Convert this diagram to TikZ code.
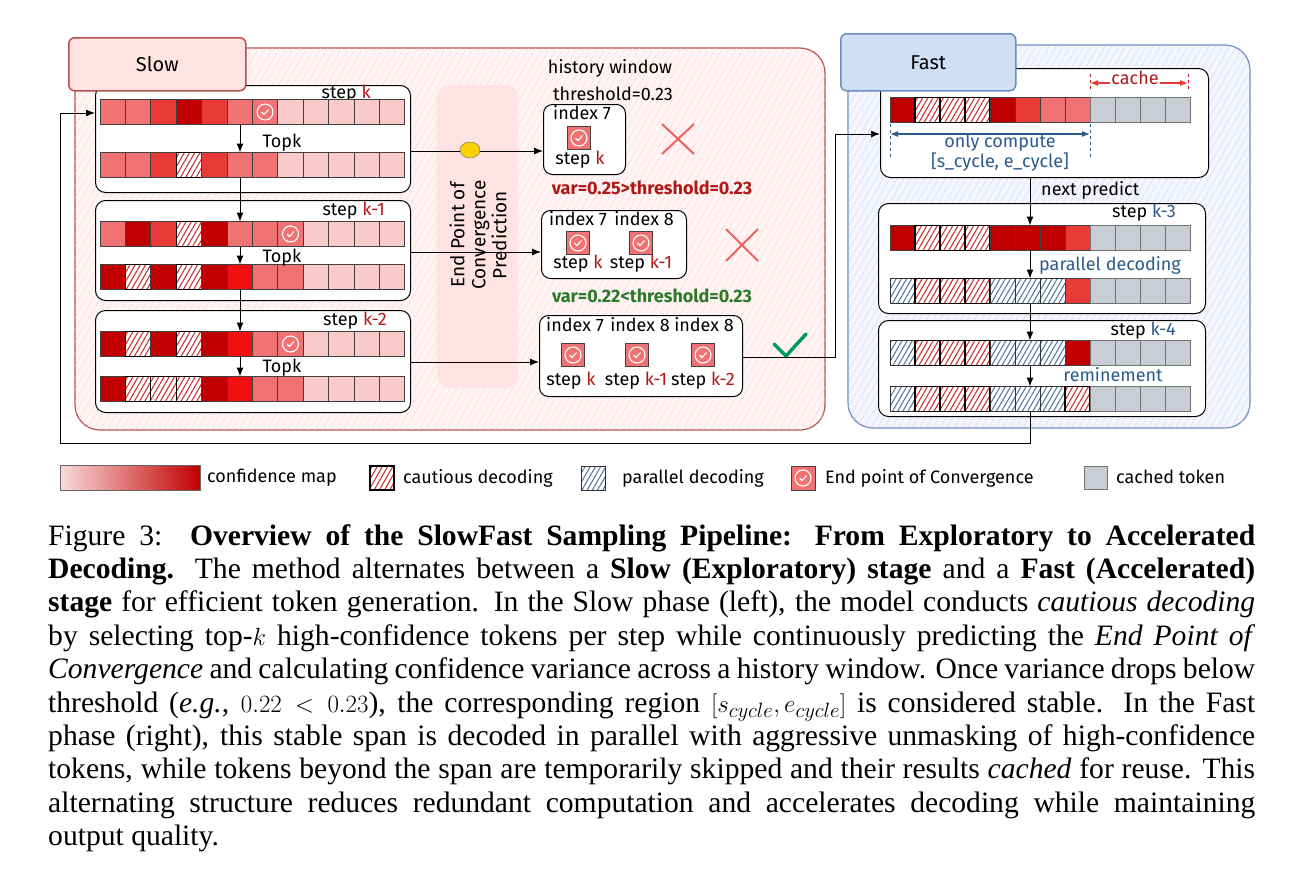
\documentclass[tikz,border=0pt]{standalone}
\usepackage{fontspec}
\setmainfont{Liberation Serif}
\newfontfamily\hand{Fira Sans}
\usetikzlibrary{patterns.meta,arrows.meta}
\definecolor{cA}{HTML}{C00000}
\definecolor{cB}{HTML}{E83A36}
\definecolor{cC}{HTML}{F07272}
\definecolor{cD}{HTML}{F8CACA}
\definecolor{cE}{HTML}{F01010}
\definecolor{cG}{HTML}{C9CDD4}
\definecolor{redtxt}{HTML}{B01818}
\definecolor{bluetxt}{HTML}{2A5A8C}
\definecolor{greentxt}{HTML}{2A7A2A}
\definecolor{slowedge}{HTML}{B5524F}
\definecolor{fastedge}{HTML}{6C8EBF}
\definecolor{fastfill}{HTML}{CFE0F5}
\tikzset{
 cell/.style={draw=black!75, line width=0.8pt, minimum height=25pt, inner sep=0pt},
 cellA/.style={fill=cA}, cellC/.style={fill=cC},
 cellD/.style={fill=cD}, cellE/.style={fill=cE}, cellG/.style={fill=cG, draw=black!55},
 cellR/.style={preaction={fill=white}, pattern={Lines[angle=60,distance=4.5pt,line width=1pt]}, pattern color=cA!85, draw=black, line width=1.2pt},
 cellB/.style={fill=cB},
 cellH/.style={preaction={fill=white}, pattern={Lines[angle=60,distance=4.5pt,line width=1pt]}, pattern color=bluetxt!85, draw=black!80},
 cellK/.style={fill=cC, path picture={\draw[white,line width=1.1pt] (path picture bounding box.center) circle (8pt);
   \draw[white,line width=1.1pt] ([xshift=-3.5pt]path picture bounding box.center) -- ++(2.5pt,-2.5pt) -- ++(4.5pt,5pt);}},
 stepbox/.style={draw=black, line width=1pt, rounded corners=10pt, fill=white},
 hbox/.style={draw=black, line width=1pt, rounded corners=9pt, fill=white},
 lbl/.style={font=\hand\fontsize{18}{20}\selectfont, inner sep=1pt},
 arr/.style={-{Latex[length=9pt,width=7pt]}, line width=1pt},
}
\newcommand\tokrow[5]{\foreach \c [count=\i] in {#5} {\node[cell, cell\c, minimum width=#4pt] (#1-\i) at ({#2+(\i-0.5)*#4}, #3) {};}}
\begin{document}
\begin{tikzpicture}[x=1pt,y=-1pt]
\path[fill=white] (0,0) rectangle (1297,868);
\useasboundingbox (0,0) rectangle (1297,868);
% Slow panel
\draw[slowedge, line width=1.2pt, rounded corners=25pt, fill=pink!18, postaction={pattern={Lines[angle=60,distance=6pt,line width=0.4pt]}, pattern color=pink!70}] (75,48) rectangle (825,430);
% Fast panel
\draw[fastedge, line width=1.2pt, rounded corners=25pt, fill=blue!4, postaction={pattern={Lines[angle=60,distance=6pt,line width=0.4pt]}, pattern color=fastedge!35}] (848,45) rectangle (1250,428);
% pink column
\node[fill=pink!45, rounded corners=12pt, minimum width=81pt, minimum height=303pt, anchor=north west] (epcol) at (437,85) {};
\node[lbl, rotate=90, align=center, font=\hand\fontsize{19}{21}\selectfont] (eptxt) at (478,235) {End Point of\\Convergence\\Prediction};
% step boxes
\node[stepbox, minimum width=315pt, minimum height=107pt, anchor=north west] (sk) at (95,85) {};
\node[stepbox, minimum width=315pt, minimum height=100pt, anchor=north west] (sk1) at (95,200) {};
\node[stepbox, minimum width=315pt, minimum height=102pt, anchor=north west] (sk2) at (95,310) {};
\node[lbl, anchor=east] (tk) at (372,94) {step \textcolor{redtxt}{k}};
\node[lbl, anchor=east] (tk1) at (386,211) {step \textcolor{redtxt}{k-1}};
\node[lbl, anchor=east] (tk2) at (388,321) {step \textcolor{redtxt}{k-2}};
\tokrow{a1}{100}{112}{25.4}{C,C,B,A,B,C,K,D,D,D,D,D}
\tokrow{a2}{100}{165}{25.4}{C,C,B,R,B,C,C,D,D,D,D,D}
\tokrow{b1}{100}{234}{25.4}{C,A,B,R,A,C,C,K,D,D,D,D}
\tokrow{b2}{100}{277}{25.4}{A,R,A,R,A,E,C,C,D,D,D,D}
\tokrow{c1}{100}{344}{25.4}{A,R,A,R,A,E,C,K,D,D,D,D}
\tokrow{c2}{100}{389}{25.4}{A,R,R,R,A,E,C,C,D,D,D,D}
\node[lbl] (topa) at (282,143) {Topk};
\node[lbl] (topb) at (282,258) {Topk};
\node[lbl] (topc) at (282,368) {Topk};
\draw[arr] (240,124.5) -- (240,152.5);
\draw[arr] (240,177.5) -- (240,221.5);
\draw[arr] (240,246.5) -- (240,264.5);
\draw[arr] (240,289.5) -- (240,331.5);
\draw[arr] (240,356.5) -- (240,376.5);
% history
\node[lbl] (hw) at (610,68) {history window};
\node[lbl] (thr) at (613,94) {threshold=0.23};
\node[hbox, minimum width=82pt, minimum height=70pt, anchor=north west] (h1) at (543,104) {};
\node[hbox, minimum width=145pt, minimum height=68pt, anchor=north west] (h2) at (541,210) {};
\node[hbox, minimum width=203pt, minimum height=81pt, anchor=north west] (h3) at (539,315) {};
\node[lbl] at (582,113) {index 7};
\node[cell,cellK,minimum width=23pt,minimum height=23pt] (hk1) at (579,138) {};
\node[lbl] at (580,160) {step \textcolor{redtxt}{k}};
\node[lbl] at (578,219) {index 7};
\node[lbl] at (644,219) {index 8};
\node[cell,cellK,minimum width=23pt,minimum height=23pt] (hk2) at (578,243) {};
\node[cell,cellK,minimum width=23pt,minimum height=23pt] (hk3) at (641,243) {};
\node[lbl] at (578,264) {step \textcolor{redtxt}{k}};
\node[lbl] at (641,264) {step \textcolor{redtxt}{k-1}};
\node[lbl] at (575,325) {index 7};
\node[lbl] at (640,325) {index 8};
\node[lbl] at (704,325) {index 8};
\node[cell,cellK,minimum width=23pt,minimum height=23pt] (hk4) at (573,355) {};
\node[cell,cellK,minimum width=23pt,minimum height=23pt] (hk5) at (637,355) {};
\node[cell,cellK,minimum width=23pt,minimum height=23pt] (hk6) at (703,355) {};
\node[lbl] at (571,381) {step \textcolor{redtxt}{k}};
\node[lbl] at (636,381) {step \textcolor{redtxt}{k-1}};
\node[lbl] at (703,381) {step \textcolor{redtxt}{k-2}};
\node[lbl, text=redtxt, font=\hand\bfseries\fontsize{18}{20}\selectfont] (v1) at (652,188) {var=0.25>threshold=0.23};
\node[lbl, text=greentxt, font=\hand\bfseries\fontsize{18}{20}\selectfont] (v2) at (652,296) {var=0.22<threshold=0.23};
\draw[cB!80, line width=2pt] (662,124) -- (694,154) (662,154) -- (694,124);
\draw[cB!80, line width=2pt] (726,229) -- (758,261) (726,261) -- (758,229);
\draw[teal!80!green, line width=3.5pt, line cap=round] (774,344) -- (786,356) -- (806,334);
% connectors slow->history
\draw[arr] (sk.east |- 0,151) -- (h1.west |- 0,151);
\draw[arr] (sk1.east |- 0,252) -- (h2.west |- 0,252);
\draw[arr] (sk2.east |- 0,362) -- (h3.west |- 0,362);
\draw[fill=yellow!70!orange, draw=black!60] (470,150) ellipse (10pt and 8pt);
% Fast boxes
\node[stepbox, minimum width=328pt, minimum height=109pt, anchor=north west] (f1) at (880,68) {};
\node[stepbox, minimum width=327pt, minimum height=110pt, anchor=north west] (f2) at (878,203) {};
\node[stepbox, minimum width=327pt, minimum height=96pt, anchor=north west] (f3) at (878,320) {};
\tokrow{fa}{890}{110}{25}{A,R,R,R,A,B,C,C,G,G,G,G}
\tokrow{fb}{890}{238}{25}{A,R,R,R,A,A,A,B,G,G,G,G}
\tokrow{fc}{890}{291}{25}{H,R,R,R,H,H,H,B,G,G,G,G}
\tokrow{fd}{890}{353}{25}{H,R,R,R,H,H,H,A,G,G,G,G}
\tokrow{fe}{890}{399}{25}{H,R,R,R,H,H,H,R,G,G,G,G}
\draw[dashed, bluetxt, line width=1pt] (890,124) -- (890,160) (1090,124) -- (1090,160);
\draw[dashed, redtxt, line width=1pt] (1090,74) -- (1090,90) (1188,74) -- (1188,90);
\draw[{Latex[length=8pt]}-{Latex[length=8pt]}, bluetxt, line width=1.2pt] (890,134) -- (1090,134);
\draw[{Latex[length=8pt]}-{Latex[length=8pt]}, cB, line width=1.2pt] (1090,83) -- (1188,83);
\node[lbl, text=redtxt, fill=white, inner sep=1pt] (cache) at (1135,78) {cache};
\node[lbl, text=bluetxt, align=center] (oc) at (1000,153) {only compute\\{}[s\_cycle, e\_cycle]};
\node[lbl, anchor=west] (np) at (1040,190) {next predict};
\node[lbl, anchor=east] (tk3) at (1177,213) {step \textcolor{bluetxt}{k-3}};
\node[lbl, text=bluetxt] (pd) at (1110,265) {parallel decoding};
\node[lbl, anchor=east] (tk4) at (1177,331) {step \textcolor{bluetxt}{k-4}};
\node[lbl, text=bluetxt] (rm) at (1113,375) {reminement};
\draw[arr] (1030,177) -- (1030,225.5);
\draw[arr] (1030,250.5) -- (1030,278.5);
\draw[arr] (1030,303.5) -- (1030,340.5);
\draw[arr] (1030,365.5) -- (1030,386.5);
% labels on top
\node[draw=slowedge, line width=1.5pt, fill=pink!45, rounded corners=6pt, minimum width=177pt, minimum height=53pt, anchor=north west, font=\hand\fontsize{20}{22}\selectfont] (slowlbl) at (68,37) {Slow};
\node[draw=fastedge, line width=1.5pt, fill=fastfill, rounded corners=6pt, minimum width=175pt, minimum height=57pt, anchor=north west, font=\hand\fontsize{20}{22}\selectfont] (fastlbl) at (840,33) {Fast};
% slow -> fast and feedback
\draw[arr] (h3.east |- 0,357) -- (835,357) -- (835,134) -- (880,134);
\draw[arr] (1030,411.5) -- (1030,443) -- (60,443) -- (60,113) -- (95,113);
% legend
\shade[left color=cD!70, right color=cA, draw=black!60] (60,465) rectangle (200,490);
\node[lbl, anchor=west] (l1) at (206,478) {confidence map};
\node[cell, cellR, minimum width=24pt, minimum height=24pt] (lr) at (382,478) {};
\node[lbl, anchor=west] (l2) at (402,478) {cautious decoding};
\node[cell, cellH, minimum width=24pt, minimum height=24pt] (lb) at (593,478) {};
\node[lbl, anchor=west] (l3) at (621,478) {parallel decoding};
\node[cell, cellK, minimum width=24pt, minimum height=24pt] (lk) at (803,478) {};
\node[lbl, anchor=west] (l4) at (824,478) {End point of Convergence};
\node[cell, cellG, minimum width=23pt, minimum height=23pt] (lg) at (1096,478) {};
\node[lbl, anchor=west] (l5) at (1115,477) {cached token};
% caption
\node[anchor=north west, text width=1207pt, align=justify, inner sep=0pt, font=\fontsize{29.6}{33.4}\selectfont] (cap) at (48,524) {\hyphenpenalty=10000\relax\emergencystretch=3em\relax Figure 3:\ \ \textbf{Overview of the SlowFast Sampling Pipeline: From Exploratory to Accelerated}\linebreak \textbf{Decoding.} The method alternates between a \textbf{Slow (Exploratory) stage} and a \textbf{Fast (Accelerated)}\linebreak \textbf{stage} for efficient token generation. In the Slow phase (left), the model conducts \textit{cautious decoding}\linebreak by selecting top-$k$ high-confidence tokens per step while continuously predicting the \textit{End Point of}\linebreak \textit{Convergence} and calculating confidence variance across a history window. Once variance drops below\linebreak threshold (\textit{e.g.}, $0.22<0.23$), the corresponding region $[s_{cycle},e_{cycle}]$ is considered stable. In the Fast\linebreak phase (right), this stable span is decoded in parallel with aggressive unmasking of high-confidence\linebreak tokens, while tokens beyond the span are temporarily skipped and their results \textit{cached} for reuse. This\linebreak alternating structure reduces redundant computation and accelerates decoding while maintaining\linebreak output quality.};
\end{tikzpicture}
\end{document}
